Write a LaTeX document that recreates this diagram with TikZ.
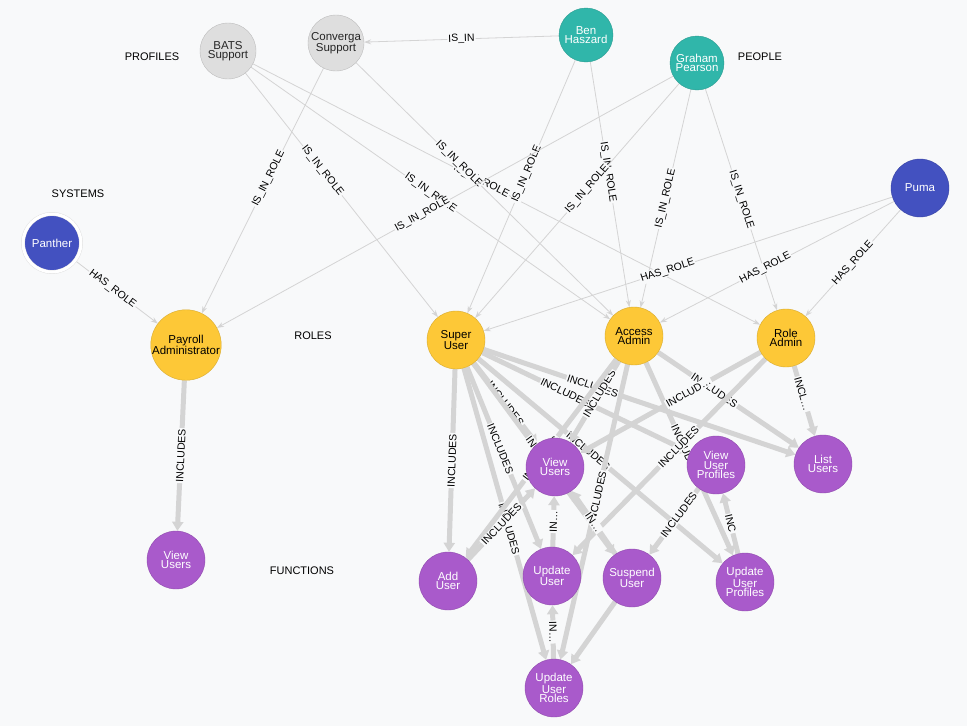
\documentclass[tikz,border=0pt]{standalone}
\usepackage{fontspec}
\setmainfont{Liberation Sans}
\usetikzlibrary{arrows.meta}
\pgfdeclarelayer{bgfill}
\pgfdeclarelayer{edges}
\pgfsetlayers{bgfill,edges,main}
\definecolor{bg}{HTML}{F8F9FA}
\definecolor{prof}{HTML}{DEDEDE}
\definecolor{peop}{HTML}{30B6AA}
\definecolor{sys}{HTML}{4351C0}
\definecolor{role}{HTML}{FDC837}
\definecolor{func}{HTML}{A95ACB}
\definecolor{edge}{HTML}{D4D4D4}
\begin{document}
\begin{tikzpicture}[x=1pt,y=-1pt,
  nd/.style={circle,minimum size=58pt,inner sep=0pt,align=center,font=\fontsize{11.5}{9.5}\selectfont},
  pr/.style={nd,fill=prof,draw=prof!85!black,text=black!85},
  pe/.style={nd,fill=peop,draw=peop!85!black,text=white},
  sy/.style={nd,fill=sys,draw=sys!85!black,text=white},
  ro/.style={nd,fill=role,draw=role!85!black,text=black},
  fu/.style={nd,fill=func,draw=func!85!black,text=white},
  isr/.style={draw=edge,line width=0.8pt,-{Stealth[length=7pt,width=5pt]}},
  inc/.style={draw=edge,line width=5pt,-{Triangle[length=9pt,width=11pt]}},
  lab/.style={sloped,fill=bg,inner sep=1pt,font=\fontsize{10.5}{10}\selectfont,text=black},
  captxt/.style={font=\fontsize{11}{12}\selectfont}]
\begin{pgfonlayer}{bgfill}
\fill[bg] (0,0) rectangle (967,726);
\end{pgfonlayer}
\useasboundingbox (0,0) rectangle (967,726);
% nodes
\node[pr,minimum size=56pt] (bats) at (228,51) {BATS\\Support};
\node[pr,minimum size=56pt] (conv) at (336,43) {Converga\\Support};
\node[pe,minimum size=54pt] (ben) at (586,35) {Ben\\Haszard};
\node[pe,minimum size=54pt] (gra) at (697,63) {Graham\\Pearson};
\node[sy] (puma) at (920,188) {Puma};
\node[sy,double=white,double distance=3pt,draw=prof] (pan) at (52,243) {Panther};
\node[ro] (pay) at (186,345) {Payroll\\Administrator};
\node[ro] (sup) at (456,340) {Super\\User};
\node[ro] (acc) at (634,336) {Access\\Admin};
\node[ro] (rol) at (786,338) {Role\\Admin};
\node[fu] (vul) at (176,560) {View\\Users};
\node[fu] (add) at (448,581) {Add\\User};
\node[fu] (vu) at (555,467) {View\\Users};
\node[fu] (uu) at (552,576) {Update\\User};
\node[fu] (su) at (632,578) {Suspend\\User};
\node[fu] (vup) at (716,465) {View\\User\\Profiles};
\node[fu] (lu) at (823,464) {List\\Users};
\node[fu] (uup) at (745,582) {Update\\User\\Profiles};
\node[fu] (uur) at (554,688) {Update\\User\\Roles};
% captions
\node[captxt] (c1) at (152,57) {PROFILES};
\node[captxt] (c2) at (760,57) {PEOPLE};
\node[captxt] (c3) at (78,194) {SYSTEMS};
\node[captxt] (c4) at (313,336) {ROLES};
\node[captxt] (c5) at (302,571) {FUNCTIONS};
\begin{pgfonlayer}{edges}
% thin edges
\path[isr] (ben) -- node[lab]{IS\_IN} (conv);
\path[isr] (bats) -- node[lab,pos=0.4]{IS\_IN\_ROLE} (sup);
\path[isr] (bats) -- node[lab,pos=0.5]{IS\_IN\_ROLE} (acc);
\path[isr] (bats) -- node[lab,pos=0.45]{IS\_IN\_ROLE} (rol);
\path[isr] (conv) -- node[lab,pos=0.45]{IS\_IN\_ROLE} (pay);
\path[isr] (conv) -- node[lab,pos=0.4]{IS\_IN\_ROLE} (acc);
\path[isr] (ben) -- node[lab,pos=0.45]{IS\_IN\_ROLE} (sup);
\path[isr] (ben) -- node[lab,pos=0.45]{IS\_IN\_ROLE} (acc);
\path[isr] (gra) -- node[lab,pos=0.55]{IS\_IN\_ROLE} (pay);
\path[isr] (gra) -- node[lab,pos=0.45]{IS\_IN\_ROLE} (sup);
\path[isr] (gra) -- node[lab,pos=0.5]{IS\_IN\_ROLE} (acc);
\path[isr] (gra) -- node[lab,pos=0.5]{IS\_IN\_ROLE} (rol);
\path[isr] (puma) -- node[lab,pos=0.55]{HAS\_ROLE} (sup);
\path[isr] (puma) -- node[lab,pos=0.55]{HAS\_ROLE} (acc);
\path[isr] (puma) -- node[lab,pos=0.5]{HAS\_ROLE} (rol);
\path[isr] (pan) -- node[lab,pos=0.45]{HAS\_ROLE} (pay);
% thick edges
\path[inc] (pay) -- node[lab]{INCLUDES} (vul);
\path[inc] (sup) -- node[lab]{INCLUDES} (add);
\path[inc] (sup) -- node[lab,pos=0.45]{INCLUDES} (uu);
\path[inc] (sup) -- node[lab,pos=0.55]{INCLUDES} (uur);
\path[inc] (sup) -- node[lab,pos=0.5]{INCLUDES} (vu);
\path[inc] (sup) -- node[lab,pos=0.5]{INCLUDES} (su);
\path[inc] (sup) -- node[lab,pos=0.45]{INCLUDES} (uup);
\path[inc] (sup) -- node[lab,pos=0.35]{INCLUDES} (lu);
\path[inc] (sup) -- node[lab,pos=0.4]{INCLUDES} (vup);
\path[inc] (acc) -- node[lab,pos=0.4]{INCLUDES} (vu);
\path[inc] (acc) -- node[lab,pos=0.45]{INCLUDES} (uur);
\path[inc] (acc) -- node[lab,pos=0.4]{INCLUDES} (lu);
\path[inc] (acc) -- node[lab,pos=0.45]{INCLUDES} (uup);
\path[inc] (acc) -- node[lab,pos=0.5]{INCLUDES} (add);
\path[inc] (rol) -- node[lab,pos=0.4]{INCLUD\dots} (vu);
\path[inc] (rol) -- node[lab,pos=0.4]{INCL\dots} (lu);
\path[inc] (rol) -- node[lab,pos=0.45]{INCLUDES} (uu);
\path[inc] (vup) -- node[lab,pos=0.4]{INCLUDES} (su);
\path[inc] (uu) -- node[lab]{IN\dots} (vu);
\path[inc] (uur) -- node[lab]{IN\dots} (uu);
\path[inc] (su) -- node[lab,pos=0.5]{IN\dots} (vu);
\path[inc] (su) -- (uur);
\path[inc] (uup) -- node[lab]{INC} (vup);
\path[inc] (add) -- node[lab]{INCLUDES} (vu);
\end{pgfonlayer}
\end{tikzpicture}
\end{document}
